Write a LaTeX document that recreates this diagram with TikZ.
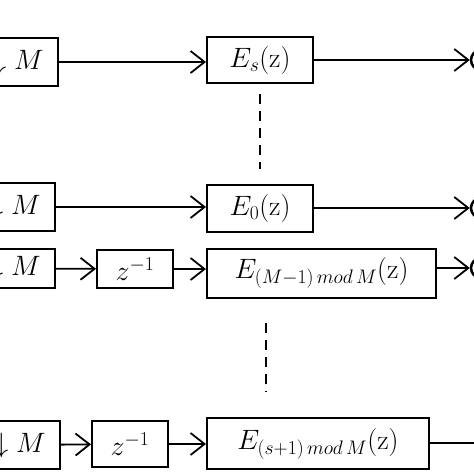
\RequirePackage{fix-cm}
\documentclass[tikz,border=0pt]{standalone}
\usepackage{amsmath}
\usetikzlibrary{positioning,arrows.meta}
\tikzset{
  blk/.style={draw,line width=2pt,inner sep=0pt,font=\fontsize{28}{32}\selectfont},
  sig/.style={line width=1.8pt,-{Straight Barb[length=14pt,width=22pt,line width=1.8pt]}},
  vdots/.style={line width=2.2pt,dash pattern=on 10pt off 7pt},
  sumnode/.style={draw,circle,line width=2.5pt,minimum size=20pt,inner sep=0pt}
}

\begin{document}
\begin{tikzpicture}[x=1pt,y=-1pt]
    \useasboundingbox (0,0) rectangle (474,474);
    \clip (0,0) rectangle (474,474);
    % branch s
    \node[blk,minimum width=80pt,minimum height=48pt] (dms) at (18,62) {$\downarrow M$};
    \node[blk,minimum width=106pt,minimum height=46pt] (Es) at (260,60) {$E_s(\mathrm{z})$};
    \node[sumnode] (ys) at (481,60) {};
    % branch 0
    \node[blk,minimum width=80pt,minimum height=48pt] (dm0) at (15,207) {$\downarrow M$};
    \node[blk,minimum width=106pt,minimum height=47pt] (E0) at (260,208) {$E_0(\mathrm{z})$};
    \node[sumnode] (y0) at (481,208) {};
    % branch M-1
    \node[blk,minimum width=80pt,minimum height=39pt] (dm1) at (15,268.5) {$\downarrow M$};
    \node[blk,minimum width=76pt,minimum height=38pt] (z1) at (135,269) {$z^{-1}$};
    \node[blk,minimum width=229pt,minimum height=49pt] (E1) at (321.5,273) {$E_{(M-1)\,mod\,M}(\mathrm{z})$};
    \node[sumnode] (y1) at (481,268) {};
    % branch s+1
    \node[blk,minimum width=80pt,minimum height=48pt] (dm2) at (20,445) {$\downarrow M$};
    \node[blk,minimum width=76pt,minimum height=46pt] (z2) at (130,444) {$z^{-1}$};
    \node[blk,minimum width=222pt,minimum height=51pt] (E2) at (318,443.5) {$E_{(s+1)\,mod\,M}(\mathrm{z})$};
    \coordinate (y2) at (490,443);

    \draw[sig] (dms.east) -- (dms.east -| Es.west);
    \draw[sig] (Es) -- (ys);
    \draw[sig] (dm0.east) -- (dm0.east -| E0.west);
    \draw[sig] (E0) -- (y0);
    \draw[sig] (dm1) -- (z1);
    \draw[sig] (z1.east) -- (z1.east -| E1.west);
    \draw[sig] (E1.east |- y1) -- (y1);
    \draw[sig] (dm2) -- (z2);
    \draw[sig] (z2.east) -- (z2.east -| E2.west);
    \draw[line width=1.8pt] (E2.east |- y2) -- (y2);

    % dots between branches
    \draw[vdots] ([yshift=-10pt]Es.south) -- ([yshift=15pt]E0.north);
    \draw[vdots] ([xshift=-55.5pt,yshift=-24pt]E1.south) -- ([xshift=-52pt,yshift=26pt]E2.north);
\end{tikzpicture}
\end{document}
